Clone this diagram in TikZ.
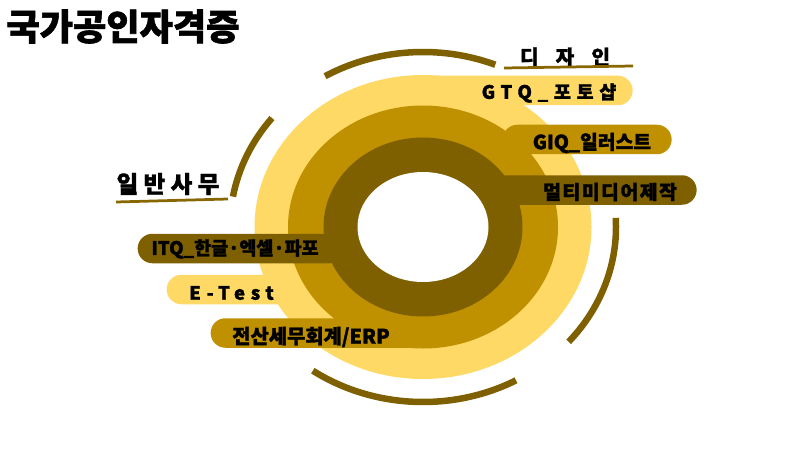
\documentclass[tikz,border=0pt]{standalone}
\usepackage{fontspec}
\setmainfont{Noto Sans CJK KR}[BoldFeatures={FakeBold=1.6}]
\usetikzlibrary{positioning, shapes.geometric, shapes.misc}
\definecolor{lightgold}{HTML}{FFD966}
\definecolor{midgold}{HTML}{BF9000}
\definecolor{darkgold}{HTML}{7F6000}
\begin{document}
\begin{tikzpicture}[
		ring/.style={ellipse, inner sep=0pt},
		pill/.style={rounded rectangle, minimum height=5.9mm, inner sep=0pt, anchor=east},
		pilltext/.style={inner sep=0pt, text=black, font=\fontsize{11}{13}\bfseries},
		heading/.style={inner sep=0pt, text=black, font=\fontsize{13.4}{15}\bfseries},
		swoosh/.style={draw=darkgold, line width=1.3mm},
		underline/.style={draw=darkgold!85!midgold, line width=.55mm}
		]
		\useasboundingbox (0,0) rectangle (16,9.06);
		% Title
		\node[inner sep=0pt, text=black, font=\fontsize{20.6}{24}\bfseries] at (2.46,8.53) (title) {국가공인자격증};
		% Rings
		\node[ring, fill=lightgold, minimum width=67.4mm, minimum height=60.8mm] at (8.46,4.52) (outer) {};
		\node[ring, fill=midgold, minimum width=54mm, minimum height=48.6mm] at (outer) (middle) {};
		\node[ring, fill=darkgold, minimum width=39.8mm, minimum height=35.8mm] at (outer) (inner) {};
		\node[ring, fill=white, minimum width=26.2mm, minimum height=22mm] at (outer) (hole) {};
		% Outer arcs
		\draw[swoosh] (outer.center) ++(120.5:3.86 and 3.5) arc [start angle=120.5, end angle=68, x radius=3.86, y radius=3.5];
		\draw[swoosh] (outer.center) ++(141.5:3.86 and 3.5) arc [start angle=141.5, end angle=170, x radius=3.86, y radius=3.5];
		\draw[swoosh] (outer.center) ++(3:3.86 and 3.5) arc [start angle=3, end angle=-41, x radius=3.86, y radius=3.5];
		\draw[swoosh] (outer.center) ++(-124.8:3.86 and 3.5) arc [start angle=-124.8, end angle=-61.2, x radius=3.86, y radius=3.5];
		% Right bars
		\node[pill, fill=lightgold, minimum width=42mm] at (12.66,7.25) (gtq) {};
		\node[pill, fill=midgold, minimum width=33.8mm] at (13.44,6.27) (giq) {};
		\node[pill, fill=darkgold, minimum width=43.4mm] at (13.94,5.26) (multi) {};
		% Left bars
		\node[pill, fill=darkgold, minimum width=41.4mm] at (6.9,4.09) (itq) {};
		\node[pill, fill=lightgold, minimum width=25.6mm] at (5.9,3.27) (etest) {};
		\node[pill, fill=midgold, minimum width=45.8mm] at (8.8,2.4) (erp) {};
		% Bar labels
		\node[pilltext, font=\fontsize{10.5}{13}\bfseries\addfontfeature{LetterSpace=31}] at (10.98,7.2) (gtqtext) {GTQ\_포토샵};
		\node[pilltext] at (11.84,6.2) (giqtext) {GIQ\_일러스트};
		\node[pilltext, font=\fontsize{11}{13}\bfseries\addfontfeature{LetterSpace=8}] at (12.2,5.22) (multitext) {멀티미디어제작};
		\node[pilltext, font=\fontsize{10.5}{13}\bfseries] at (4.7,4.08) (itqtext) {ITQ\_한글·엑셀·파포};
		\node[pilltext, font=\fontsize{10.5}{13}\bfseries\addfontfeature{LetterSpace=31}] at (4.63,3.2) (etesttext) {E-Test};
		\node[pilltext, font=\fontsize{11.3}{13}\bfseries] at (6.22,2.32) (erptext) {전산세무회계/ERP};
		% Headings
		\node[heading] at (3.36,5.38) (office) {일 반 사 무};
		\node[heading, font=\fontsize{11.5}{14}\bfseries\addfontfeature{LetterSpace=62}] at (11.3,7.92) (design) {디 자 인};
		\coordinate (officeL) at (2.32,5.02);
		\coordinate (officeR) at (4.56,5.08);
		\coordinate (designL) at (10.08,7.7);
		\coordinate (designR) at (12.66,7.74);
		\draw[underline] (officeL) -- (officeR);
		\draw[underline] (designL) -- (designR);
	\end{tikzpicture}
\end{document}
